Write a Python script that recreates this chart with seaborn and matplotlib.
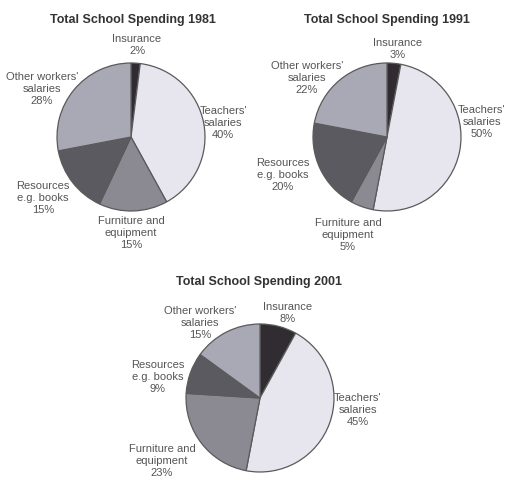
import matplotlib
matplotlib.use("Agg")
import matplotlib.pyplot as plt
import seaborn as sns

# data
categories = ["Insurance", "Teachers'\nsalaries", "Furniture and\nequipment",
              "Resources\ne.g. books", "Other workers'\nsalaries"]
years = ["1981", "1991", "2001"]
spend_1981 = [2, 40, 15, 15, 28]
spend_1991 = [3, 50, 5, 20, 22]
spend_2001 = [8, 45, 23, 9, 15]

sns.set_theme(style="white")
plt.rcParams['font.family'] = ['Liberation Sans', 'DejaVu Sans']

grays = ["#302c31", "#e7e6ee", "#8b8a93", "#5b5a61", "#a9a8b5"]

W, H = 521, 491
fig = plt.figure(figsize=(W / 100, H / 100), dpi=100)
ax = fig.add_axes([0, 0, 1, 1])

# layout (pixel coords, y from top): pie centre, radius, title y, label centres
layout = {
    "1981": dict(c=(131, 137), r=74, title=(133, 20),
                 labels=[(137, 45), (223, 123), (131, 233), (43, 198), (42, 89)]),
    "1991": dict(c=(387, 137), r=74, title=(387, 20),
                 labels=[(398, 49), (482, 122), (348, 235), (283, 175), (307, 78)]),
    "2001": dict(c=(260, 398), r=74, title=(259, 282),
                 labels=[(288, 313), (358, 410), (162, 461), (158, 377), (200, 323)]),
}

for year, values in zip(years, [spend_1981, spend_1991, spend_2001]):
    lay = layout[year]
    cx, cy = lay["c"]
    ax.pie(values, colors=grays, startangle=90, counterclock=False,
           center=(cx, H - cy), radius=lay["r"], frame=True,
           wedgeprops=dict(edgecolor="#5a5a5a", linewidth=0.9))
    tx, ty = lay["title"]
    ax.text(tx, H - ty, f"Total School Spending {year}", ha="center", va="center",
            fontsize=9, fontweight="bold", color="#333333")
    for cat, v, (lx, ly) in zip(categories, values, lay["labels"]):
        ax.text(lx, H - ly, f"{cat}\n{v}%", ha="center", va="center",
                fontsize=8, color="#555555", linespacing=1.3)

ax.set_xlim(0, W)
ax.set_ylim(0, H)
ax.set_aspect("equal")
ax.axis("off")

fig.savefig("out.png", dpi=100, facecolor="white")
